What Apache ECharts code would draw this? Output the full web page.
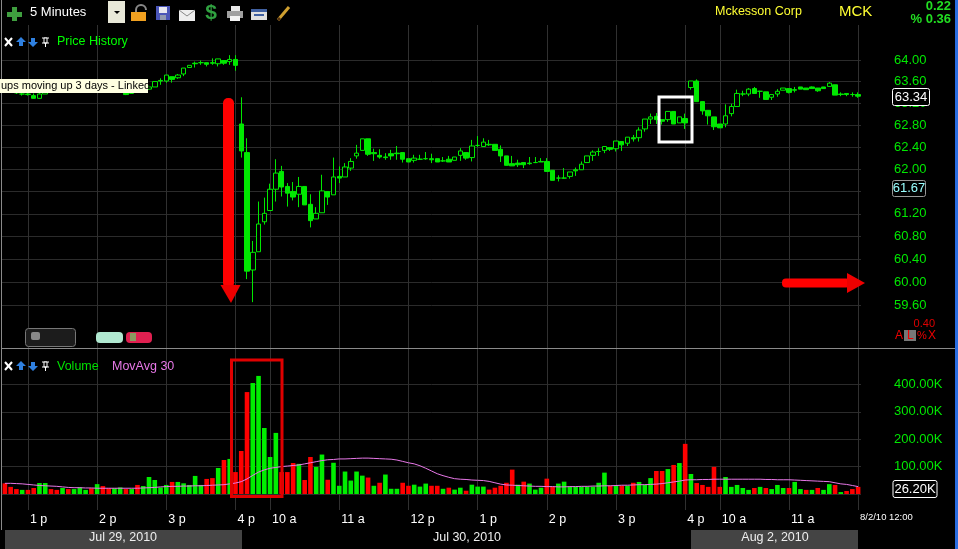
<!DOCTYPE html>
<html>
<head>
<meta charset="utf-8">
<title>MCK 5 Minutes</title>
<script src="https://cdn.jsdelivr.net/npm/echarts@6/dist/echarts.min.js"></script>
<style>
  html, body { margin: 0; padding: 0; background: #000; }
  #chart { width: 958px; height: 549px; }
</style>
</head>
<body>
<div id="chart"></div>
<script>
// 5 minute bars, Jul 29 12:40 to Aug 2 12:00
const opens = [
  63.44,63.42,63.41,63.37,63.37,63.34,63.29,63.37,63.42,63.40,
  63.44,63.43,63.47,63.45,63.48,63.46,63.45,63.48,63.46,63.44,
  63.46,63.41,63.38,63.43,63.47,63.46,63.50,63.62,63.61,63.69,
  63.67,63.74,63.86,63.94,63.95,63.95,63.95,63.93,63.99,63.97,
  64.01,62.82,62.30,60.21,60.53,61.06,61.26,61.64,61.96,61.69,
  61.60,61.55,61.69,61.37,61.11,61.22,61.60,61.54,61.87,61.86,
  62.02,62.24,62.34,62.55,62.30,62.25,62.22,62.28,62.29,62.30,
  62.19,62.16,62.18,62.19,62.19,62.19,62.15,62.18,62.16,62.25,
  62.30,62.21,62.43,62.41,62.45,62.45,62.36,62.24,62.10,62.11,
  62.12,62.11,62.12,62.14,62.14,61.98,61.84,61.84,61.87,61.99,
  61.99,62.12,62.25,62.32,62.34,62.39,62.37,62.50,62.47,62.57,
  62.57,62.73,62.91,62.96,62.90,62.90,63.05,62.84,62.92,63.49,
  63.61,63.23,63.07,62.95,62.82,62.82,63.01,63.14,63.37,63.37,
  63.47,63.42,63.41,63.31,63.37,63.44,63.47,63.45,63.50,63.48,
  63.50,63.48,63.50,63.51,63.54,63.37,63.38,63.36,63.36
];
const closes = [
  63.42,63.44,63.39,63.37,63.36,63.29,63.37,63.42,63.40,63.44,
  63.43,63.47,63.45,63.48,63.46,63.45,63.48,63.46,63.44,63.46,
  63.43,63.36,63.43,63.47,63.46,63.50,63.60,63.61,63.72,63.64,
  63.72,63.85,63.90,63.93,63.95,63.92,63.94,64.02,63.94,64.01,
  63.90,62.33,60.19,60.52,61.02,61.21,61.64,61.93,61.68,61.57,
  61.50,61.69,61.36,61.08,61.21,61.61,61.50,61.86,61.84,62.04,
  62.14,62.29,62.55,62.27,62.28,62.22,62.21,62.24,62.28,62.18,
  62.13,62.20,62.18,62.19,62.17,62.13,62.15,62.13,62.22,62.33,
  62.20,62.42,62.43,62.49,62.44,62.34,62.24,62.07,62.06,62.08,
  62.08,62.10,62.12,62.13,61.96,61.80,61.84,61.84,61.95,61.97,
  62.09,62.24,62.31,62.32,62.41,62.36,62.51,62.44,62.58,62.55,
  62.71,62.91,62.95,62.90,62.87,63.05,62.82,62.95,62.84,63.61,
  63.23,63.06,62.97,62.77,62.75,62.97,63.14,63.38,63.37,63.46,
  63.38,63.42,63.27,63.36,63.42,63.48,63.40,63.44,63.46,63.45,
  63.47,63.43,63.47,63.57,63.35,63.36,63.36,63.36,63.33
];
const lows = [
  63.40,63.40,63.37,63.34,63.34,63.29,63.29,63.37,63.39,63.39,
  63.41,63.42,63.44,63.44,63.45,63.43,63.44,63.45,63.42,63.42,
  63.41,63.35,63.38,63.42,63.44,63.45,63.50,63.54,63.58,63.58,
  63.65,63.70,63.86,63.86,63.91,63.88,63.91,63.88,63.91,63.91,
  63.80,62.21,60.05,59.65,60.53,61.01,61.26,61.42,61.51,61.33,
  61.44,61.32,61.36,60.96,61.11,61.22,61.36,61.54,61.75,61.86,
  61.97,62.19,62.34,62.24,62.15,62.19,62.17,62.17,62.17,62.12,
  62.13,62.12,62.17,62.17,62.11,62.13,62.13,62.13,62.16,62.15,
  62.17,62.14,62.40,62.41,62.42,62.34,62.13,62.07,62.06,62.04,
  62.02,62.08,62.11,62.13,61.96,61.80,61.78,61.83,61.83,61.88,
  61.99,62.12,62.15,62.24,62.29,62.33,62.32,62.33,62.42,62.50,
  62.50,62.68,62.82,62.82,62.81,62.86,62.82,62.84,62.73,63.45,
  63.23,62.99,62.81,62.71,62.75,62.76,62.96,63.14,63.33,63.33,
  63.38,63.30,63.27,63.26,63.32,63.44,63.38,63.40,63.46,63.45,
  63.47,63.41,63.47,63.51,63.35,63.33,63.33,63.32,63.30
];
const highs = [
  63.46,63.47,63.43,63.41,63.40,63.38,63.42,63.45,63.44,63.46,
  63.47,63.49,63.49,63.50,63.50,63.48,63.51,63.50,63.48,63.48,
  63.47,63.44,63.46,63.50,63.50,63.53,63.60,63.66,63.72,63.69,
  63.74,63.85,63.90,63.97,63.99,63.95,64.03,64.02,63.99,64.09,
  64.09,63.31,62.56,60.72,61.42,61.49,61.74,62.18,62.06,61.75,
  61.77,61.86,61.69,61.55,61.32,61.90,61.60,62.21,62.05,62.11,
  62.20,62.44,62.55,62.55,62.37,62.36,62.29,62.35,62.42,62.30,
  62.19,62.26,62.26,62.31,62.28,62.19,62.22,62.24,62.22,62.38,
  62.30,62.53,62.60,62.56,62.53,62.45,62.43,62.24,62.24,62.17,
  62.12,62.22,62.22,62.20,62.20,61.98,61.89,62.02,61.95,62.03,
  62.14,62.24,62.34,62.38,62.41,62.39,62.51,62.50,62.58,62.62,
  62.76,62.91,63.01,63.02,62.90,63.05,63.05,62.95,63.01,63.61,
  63.64,63.23,63.07,62.95,62.82,63.18,63.19,63.45,63.43,63.48,
  63.50,63.43,63.41,63.36,63.46,63.48,63.47,63.50,63.50,63.48,
  63.51,63.48,63.50,63.59,63.54,63.40,63.38,63.40,63.40
];
// volume in thousands
const volumes = [
  39,26,18,15,15,22,40,40,18,15,
  22,18,18,24,15,21,36,29,21,21,
  24,18,18,33,29,62,51,24,33,44,
  44,39,33,66,33,55,58,95,124,128,
  80,157,372,405,431,241,135,223,80,80,
  113,110,51,135,99,144,52,114,30,82,
  49,82,67,60,30,41,71,19,19,41,
  30,34,27,38,30,30,19,23,16,23,
  12,34,27,27,16,23,30,41,89,34,
  45,38,16,23,56,27,38,45,27,27,
  27,27,27,41,78,30,30,30,30,41,
  44,33,58,84,84,91,106,113,183,73,
  40,33,26,99,26,62,26,33,22,15,
  22,26,22,18,33,22,22,44,18,15,
  15,22,15,36,33,7,11,18,26
];
// 1 = down bar (red)
const volumeDown = [
  1,1,1,0,1,1,0,0,1,1,
  0,1,0,0,0,1,0,1,1,0,
  0,1,0,1,0,0,0,0,0,1,
  0,0,0,0,0,1,1,0,1,0,
  1,1,1,0,0,0,0,0,1,1,
  1,0,1,1,0,0,1,0,0,0,
  0,0,0,1,0,1,0,0,0,1,
  1,0,0,0,1,1,0,1,0,0,
  1,0,0,0,1,1,1,1,1,0,
  1,0,0,0,1,1,0,0,0,0,
  0,0,0,0,0,1,0,1,0,1,
  0,0,0,1,1,0,1,0,1,0,
  1,1,1,1,1,0,0,0,0,0,
  1,0,1,0,0,0,1,0,0,1,
  0,1,0,0,1,0,1,1,1
];
const movAvg30 = [
  39,39,38,37,35,33,31,30,29,28,
  26,24,23,23,22,22,21,21,21,21,
  21,21,21,21,22,23,24,26,27,28,
  28,29,29,30,30,31,32,33,34,37,
  40,45,55,68,80,88,94,97,100,102,
  104,106,110,114,118,122,125,126,128,128,
  129,130,131,131,130,129,128,127,124,119,
  114,110,103,94,84,74,67,61,56,54,
  53,51,50,49,46,41,36,33,32,31,
  30,29,28,28,27,27,26,26,27,27,
  28,28,29,29,30,30,31,32,32,33,
  34,34,35,36,38,41,44,47,51,52,
  52,53,53,54,54,54,54,54,54,54,
  54,54,53,53,52,52,52,51,50,49,
  48,47,46,45,41,37,35,31,27
];
const hourIndex = [4, 16, 28, 40, 46, 58, 70, 82, 94, 106, 118, 124, 136, 148];
const hourLabels = ['1 p', '2 p', '3 p', '4 p', '10 a', '11 a', '12 p', '1 p', '2 p', '3 p', '4 p', '10 a', '11 a', ''];
const priceTicks = [59.6, 60, 60.4, 60.8, 61.2, 61.6, 62, 62.4, 62.8, 63.2, 63.6, 64];
const volumeTicks = [0, 100, 200, 300, 400];

const GREEN = '#00e800';
const RED = '#ff0000';
const GRID = '#2b2b2b';
const VLINE = '#303030';
const LABEL_FONT = '"Liberation Sans", sans-serif';

const categories = volumes.map((v, i) => i);
const candles = opens.map((o, i) => [o, closes[i], lows[i], highs[i]]);
const hourLines = {
  silent: true,
  z: 1,
  symbol: 'none',
  animation: false,
  label: { show: false },
  lineStyle: { color: VLINE, width: 1, type: 'solid' },
  data: hourIndex.map((i) => ({ xAxis: i })),
};

// annotations and screen furniture around the plot
function txt(x, y, text, fill, size, extra) {
  return {
    type: 'text', z: 50,
    style: Object.assign({
      x, y, text, fill, fontSize: size, fontFamily: LABEL_FONT,
      textVerticalAlign: 'middle', verticalAlign: 'middle',
    }, extra || {}),
  };
}
function box(x, y, width, height, fill, extra, r) {
  return {
    type: 'rect', z: 40,
    shape: { x, y, width, height, r: r || 0 },
    style: Object.assign({ fill }, extra || {}),
  };
}
function poly(points, fill) {
  return { type: 'polygon', z: 40, shape: { points }, style: { fill } };
}
function seg(x1, y1, x2, y2, stroke, lineWidth) {
  return { type: 'line', z: 40, shape: { x1, y1, x2, y2 }, style: { stroke, lineWidth } };
}
function legendIcons(y) {
  return [
    seg(5, y - 4, 12, y + 4, '#fff', 2), seg(12, y - 4, 5, y + 4, '#fff', 2),
    poly([[21, y - 5], [26, y], [23, y], [23, y + 4], [19, y + 4], [19, y], [16, y]], '#2f80e0'),
    poly([[33, y + 5], [38, y], [35, y], [35, y - 4], [31, y - 4], [31, y], [28, y]], '#2f80e0'),
    seg(42, y - 4, 49, y - 4, '#fff', 1), box(44, y - 4, 3, 5, '#000', { stroke: '#fff', lineWidth: 1 }),
    seg(42, y + 1, 49, y + 1, '#fff', 1), seg(45.5, y + 1, 45.5, y + 5, '#fff', 1),
  ];
}
function badge(x, y, width, height, text, stroke, fill) {
  return [
    box(x, y, width, height, '#000', { stroke, lineWidth: 1 }, 2),
    txt(x + width / 2, y + height / 2, text, fill, 13, { textAlign: 'center', align: 'center' }),
  ];
}

const furniture = [
  // edges and separator
  seg(1.5, 0, 1.5, 530, '#8a8a8a', 1),
  seg(2, 348.5, 955, 348.5, '#8a8a8a', 1),
  box(955, 0, 3, 549, '#2a6de0'),
  // toolbar
  box(12, 7, 5, 14, '#3f9f3f'), box(7, 12, 15, 5, '#3f9f3f'),
  txt(30, 12, '5 Minutes', '#ffffff', 13),
  box(108, 1, 17, 22, '#e8e8d8'),
  poly([[114, 11], [120, 11], [117, 14]], '#000'),
  { type: 'arc', z: 40, shape: { cx: 141, cy: 10, r: 5, startAngle: Math.PI, endAngle: 0 }, style: { stroke: '#888', lineWidth: 2, fill: null } },
  seg(136, 10, 136, 13, '#888', 2),
  box(131, 12, 15, 9, '#f0a020'),
  box(156, 6, 14, 14, '#4a55b8'), box(159, 7, 8, 6, '#e8e8f0'), box(160, 15, 6, 5, '#9098b0'),
  box(179, 10, 16, 11, '#eeeeee'), seg(179, 10, 187, 16, '#888', 1), seg(195, 10, 187, 16, '#888', 1),
  txt(211, 13, '$', '#30a040', 21, { textAlign: 'center', align: 'center', fontWeight: 'bold' }),
  box(231, 6, 9, 6, '#e8e8e8'), box(227, 11, 16, 7, '#a0a0a0'), box(230, 16, 10, 5, '#f4f4f4'),
  box(251, 9, 16, 11, '#e0e0e0'), box(251, 9, 16, 3, '#4060a0'), seg(254, 15, 264, 15, '#4060a0', 2),
  seg(278, 20, 289, 7, '#d0a030', 3), seg(278, 20, 280, 18, '#503010', 3),
  // instrument header
  txt(715, 12, 'Mckesson Corp', '#ffff33', 12.5),
  txt(839, 12, 'MCK', '#ffff33', 15),
  txt(951, 6, '0.22', '#22dd22', 13, { textAlign: 'right', align: 'right', fontWeight: 'bold' }),
  txt(951, 19, '% 0.36', '#22dd22', 13, { textAlign: 'right', align: 'right', fontWeight: 'bold' }),
  // price panel
  ...legendIcons(42),
  txt(57, 42, 'Price History', '#00ff00', 12.5),
  box(0, 79, 148, 14, '#ffffe1'),
  txt(1, 86, 'ups moving up 3 days - Linked', '#000000', 11),
  ...badge(892.5, 88.5, 37, 17, '63.34', '#ffffff', '#ffffff'),
  ...badge(892.5, 180.5, 33, 16, '61.67', '#999999', '#99ffff'),
  // panel widgets
  box(25.5, 328.5, 50, 18, '#1c1c1c', { stroke: '#777', lineWidth: 1 }, 3),
  box(31, 332, 9, 8, '#888', null, 2),
  box(96, 332, 27, 11, '#b0e8d0', null, 4),
  box(126, 332, 26, 11, '#e02050', null, 4),
  box(130, 333, 6, 8, '#8a9a60'),
  txt(935, 324, '0.40', '#dd0000', 11, { textAlign: 'right', align: 'right' }),
  box(904, 330, 12, 11, '#777777'),
  txt(895, 335.5, 'A', '#ee0000', 12),
  txt(907, 335.5, 'L', '#ee0000', 12),
  txt(917, 335.5, '%', '#ee0000', 11),
  txt(928, 335.5, 'X', '#ee0000', 12),
  // volume panel
  ...legendIcons(366),
  txt(57, 367, 'Volume', '#00e000', 12.5),
  txt(112, 367, 'MovAvg 30', '#e878e8', 12.5),
  ...badge(893, 480.5, 44, 17, '26.20K', '#ffffff', '#ffffff'),
  // date strip
  box(5, 530, 237, 19, '#444444'),
  box(691, 530, 167, 19, '#444444'),
  txt(123, 538, 'Jul 29, 2010', '#eeeeee', 12.5, { textAlign: 'center', align: 'center' }),
  txt(467, 538, 'Jul 30, 2010', '#eeeeee', 12.5, { textAlign: 'center', align: 'center' }),
  txt(775, 538, 'Aug 2, 2010', '#eeeeee', 12.5, { textAlign: 'center', align: 'center' }),
  txt(860, 517, '8/2/10 12:00', '#ffffff', 9.5),
  // hand drawn markup on the screenshot
  box(223, 98, 11, 190, '#ff0000', null, 5),
  poly([[220.5, 285], [240.5, 285], [231, 303]], '#ee0000'),
  box(782, 278.5, 68, 9, '#ff0000', null, 4),
  poly([[847, 273], [865, 283], [847, 293]], '#ee0000'),
  box(659, 97, 33, 45, 'transparent', { stroke: '#ffffff', lineWidth: 3 }),
  box(231.5, 360, 50.5, 136.5, 'transparent', { stroke: '#e00000', lineWidth: 3 }),
];

const option = {
  animation: false,
  backgroundColor: '#000000',
  grid: [
    { left: 2, width: 859, top: 25, height: 323 },
    { left: 2, width: 859, top: 349, height: 161 },
  ],
  xAxis: [
    {
      type: 'category', gridIndex: 0, data: categories, boundaryGap: true,
      axisLine: { show: false }, axisTick: { show: false }, axisLabel: { show: false }, splitLine: { show: false },
    },
    {
      type: 'category', gridIndex: 1, data: categories, boundaryGap: true,
      axisLine: { show: false }, axisTick: { show: false }, splitLine: { show: false },
      axisLabel: {
        show: true,
        interval: (i) => hourIndex.includes(i),
        formatter: (v, i) => hourLabels[hourIndex.indexOf(i)] || '',
        color: '#ffffff', fontFamily: LABEL_FONT, fontSize: 12.5,
        align: 'left', margin: 3, padding: [0, 0, 0, 2], hideOverlap: false,
      },
    },
  ],
  yAxis: [
    {
      type: 'log', gridIndex: 0, position: 'right', logBase: Math.E,
      min: 58.86, max: 64.654, scale: true,
      axisLine: { show: false },
      axisTick: { show: false, customValues: priceTicks },
      splitLine: { show: true, lineStyle: { color: GRID, width: 1 } },
      minorTick: { show: false }, minorSplitLine: { show: false },
      axisLabel: {
        show: true, customValues: priceTicks, margin: 33,
        color: GREEN, fontFamily: LABEL_FONT, fontSize: 13,
        formatter: (v) => Number(v).toFixed(2),
      },
    },
    {
      type: 'value', gridIndex: 1, position: 'right',
      min: -58.4, max: 529.25,
      axisLine: { show: false },
      axisTick: { show: false, customValues: volumeTicks },
      splitLine: { show: true, lineStyle: { color: GRID, width: 1 } },
      axisLabel: {
        show: true, customValues: volumeTicks, margin: 33,
        color: GREEN, fontFamily: LABEL_FONT, fontSize: 13,
        formatter: (v) => Number(v).toFixed(2) + 'K',
      },
    },
  ],
  series: [
    {
      name: 'Price History', type: 'candlestick', xAxisIndex: 0, yAxisIndex: 0,
      data: candles, barWidth: 5, z: 3,
      itemStyle: { color: '#000000', color0: GREEN, borderColor: GREEN, borderColor0: GREEN, borderColorDoji: GREEN, borderWidth: 1 },
      markLine: hourLines,
    },
    {
      name: 'Volume', type: 'bar', xAxisIndex: 1, yAxisIndex: 1,
      data: volumes, barWidth: 4.6, z: 3,
      itemStyle: { color: (p) => (volumeDown[p.dataIndex] ? RED : '#00ee00') },
      markLine: hourLines,
    },
    {
      name: 'MovAvg 30', type: 'line', xAxisIndex: 1, yAxisIndex: 1,
      data: movAvg30, symbol: 'none', z: 4,
      lineStyle: { color: '#e878e8', width: 1 },
    },
  ],
  graphic: { elements: furniture },
};

const chart = echarts.init(document.getElementById('chart'), null, { renderer: 'canvas' });
chart.setOption(option);
</script>
</body>
</html>
